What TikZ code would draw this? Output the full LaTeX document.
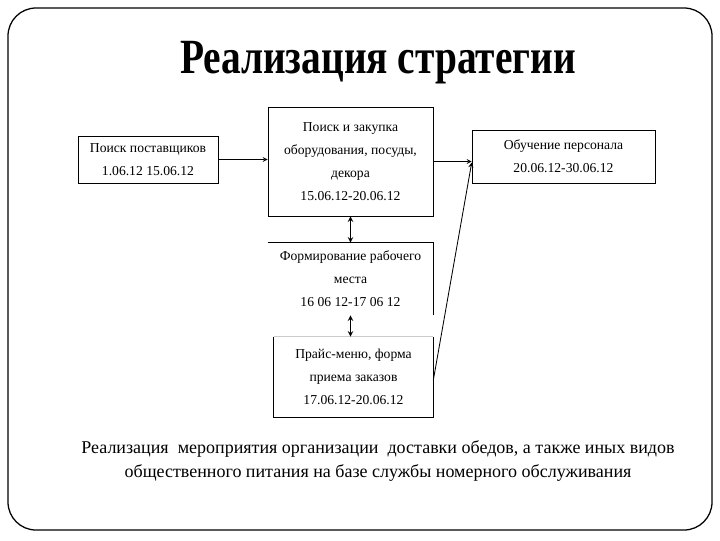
\documentclass[tikz,border=0pt]{standalone}
\usepackage{fontspec}
\setmainfont{Liberation Serif}
\usetikzlibrary{arrows}
\begin{document}
\begin{tikzpicture}[x=0.025cm,y=-0.025cm,>=stealth,
    stage/.style={draw, align=center, inner sep=0pt, font=\fontsize{9.7}{16.3}\selectfont},
    link/.style={semithick,->}]
  \useasboundingbox (0,0) rectangle (720,540);
  \draw[line width=0.9pt, rounded corners=0.7cm] (8,8) rectangle (712,530);
  \node (title) at (378,63) {\scalebox{0.8}[1]{\bfseries\fontsize{35}{40}\selectfont Реализация стратегии}};
  % stages
  \node[stage, minimum width=3.5cm, minimum height=1.175cm] (A) at (148,159.5) {Поиск поставщиков\\1.06.12 15.06.12};
  \node[stage, minimum width=4.125cm, minimum height=2.725cm] (B) at (350.5,161.5) {Поиск и закупка\\оборудования, посуды,\\декора\\15.06.12-20.06.12};
  \node[stage, minimum width=4.575cm, minimum height=1.325cm] (C) at (563.5,156.5) {Обучение персонала\\20.06.12-30.06.12};
  \node[stage, draw=none, minimum width=4.125cm, minimum height=1.8cm] (D) at (350.5,279) {Формирование рабочего\\места\\16 06 12-17 06 12};
  \node[stage, draw=none, minimum width=3.975cm, minimum height=2cm] (E) at (353.5,377) {Прайс-меню, форма\\приема заказов\\17.06.12-20.06.12};
  \draw[semithick] (D.north west) -- (D.north east) -- (D.south east);
  \draw[semithick] (E.north west) -- (E.south west) -- (E.south east) -- (E.north east);
  \draw[gray!40] (E.north west) -- (E.north east);
  % links
  \draw[link] (A.east) -- (A.east -| B.west);
  \draw[link] (B.east) -- (B.east -| C.west);
  \draw[thick,<->] (B.south) -- (D.north);
  \draw[thick,<->] (D.south) -- (D.south |- E.north);
  \draw[link] ([yshift=-0.08cm]E.east) -- ([yshift=-0.15cm]C.west);
  \node[align=center, font=\fontsize{12.8}{17}\selectfont] (note) at (378,461) {Реализация\ \ мероприятия организации\ \ доставки обедов, а также иных видов\\общественного питания на базе службы номерного обслуживания};
\end{tikzpicture}
\end{document}
